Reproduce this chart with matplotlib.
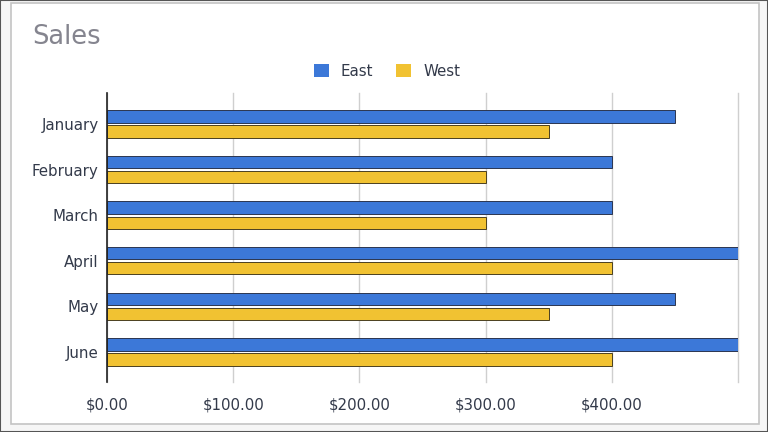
import numpy as np
import matplotlib
matplotlib.use('Agg')
import matplotlib.pyplot as plt
from matplotlib.patches import Rectangle, Patch

months = ['January', 'February', 'March', 'April', 'May', 'June']
east = [450, 400, 400, 500, 450, 500]
west = [350, 300, 300, 400, 350, 400]
xticks = [0, 100, 200, 300, 400, 500]
xlabels = ['$0.00', '$100.00', '$200.00', '$300.00', '$400.00', '']

BLUE, YELLOW = '#3c78d8', '#f1c232'
TXT = '#333a4a'

fig = plt.figure(figsize=(7.68, 4.32), dpi=100, facecolor='#f6f6f6')

# spreadsheet card behind the chart
fig.patches.append(Rectangle((11/768, 1 - 424/432), 748/768, 421/432, transform=fig.transFigure,
                             facecolor='white', edgecolor='#c4c4c4', lw=1.2, zorder=-5))
fig.patches.append(Rectangle((0, 0), 1, 1, transform=fig.transFigure,
                             facecolor='none', edgecolor='#555555', lw=1.5, zorder=-5))

ax = fig.add_axes([107/768, 1 - 382/432, 631/768, 289/432])
ax.set_zorder(5)
ax.set_facecolor('white')

y = np.arange(len(months))
h = 0.27
ax.barh(y - 0.165, east, height=h, color=BLUE, edgecolor='#2b3550', lw=0.7, zorder=3)
ax.barh(y + 0.165, west, height=h, color=YELLOW, edgecolor='#4a4020', lw=0.7, zorder=3)

ax.set_xlim(0, 500)
ax.set_ylim(5.66, -0.68)
ax.set_xticks(xticks)
ax.set_xticklabels(xlabels)
ax.set_yticks(y)
ax.set_yticklabels(months)
ax.tick_params(length=0, labelsize=10.8, labelcolor=TXT)
ax.tick_params(axis='x', pad=11)
ax.tick_params(axis='y', pad=6)
ax.grid(axis='x', color='#cfcfcf', lw=1, zorder=0)
for gl in ax.xaxis.get_gridlines():
    gl.set_clip_on(False)
for s in ['top', 'right', 'bottom']:
    ax.spines[s].set_visible(False)
ax.spines['left'].set_color('#222222')
ax.spines['left'].set_linewidth(1.2)
ax.spines['left'].set_zorder(4)

fig.text(32/768, 1 - 37/432, 'Sales', fontsize=18.5, color='#85858f', va='center', ha='left')
handles = [Patch(facecolor=BLUE, edgecolor='none', label='East'),
           Patch(facecolor=YELLOW, edgecolor='none', label='West')]
leg = fig.legend(handles=handles, loc='center', bbox_to_anchor=(387/768, 1 - 71/432), ncol=2,
                 frameon=False, fontsize=10.8, labelcolor=TXT, handlelength=1.0, handleheight=1.0,
                 handletextpad=0.8, columnspacing=1.5)
leg.set_zorder(6)

fig.savefig('out.png', dpi=100, facecolor=fig.get_facecolor())
